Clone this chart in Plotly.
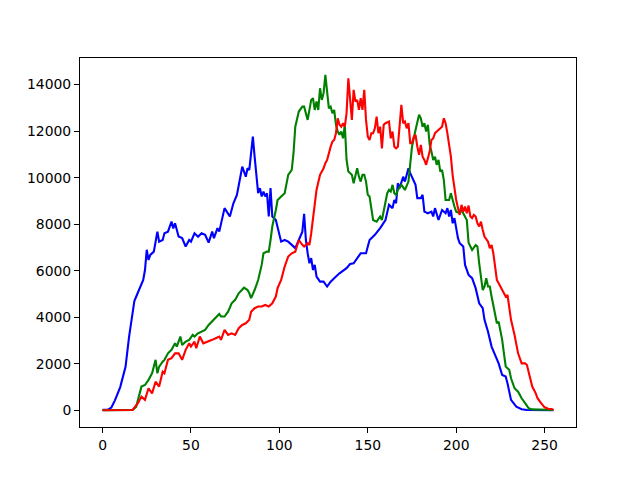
import plotly.graph_objects as go

# Blue channel histogram (bin, count)
blue_bins = [0, 3, 5, 7, 10, 13, 15, 17, 18, 19, 20, 23, 24, 25, 26, 27, 29, 31, 32, 34, 35, 37, 39, 40, 41, 43, 45, 47, 49, 50,
             52, 54, 56, 58, 60, 62, 63, 65, 66, 67, 69, 72, 74, 76, 79, 81, 82, 83, 85, 86, 88, 89, 90, 91, 92, 93, 94, 95, 96, 98,
             99, 101, 103, 105, 107, 109, 111, 113, 114, 115, 116, 117, 118, 119, 120, 121, 123, 125, 127, 129, 131, 134, 138, 140, 142, 146, 149, 151, 154, 157,
             160, 162, 164, 165, 166, 167, 168, 170, 171, 173, 174, 176, 177, 178, 180, 181, 182, 184, 186, 187, 188, 190, 192, 194, 195, 196, 197, 198, 199, 200,
             201, 202, 204, 205, 207, 209, 211, 213, 215, 216, 218, 220, 222, 224, 226, 228, 229, 230, 231, 234, 237, 240, 255]
blue_counts = [20, 30, 120, 430, 1000, 1870, 3160, 4170, 4700, 4880, 5050, 5600, 6030, 6900, 6460, 6680, 6820, 7680, 7250, 7320, 7610, 7680, 8110, 7820, 8040, 7470, 7400, 7040, 7320, 7250,
               7610, 7460, 7610, 7540, 7210, 7680, 7400, 7830, 7680, 8040, 8690, 8330, 8900, 9260, 10470, 10040, 10400, 10330, 11760, 10900, 9330, 9550, 9190, 9400, 9190, 9330, 8330, 9550, 8330, 8180,
               7830, 7250, 7320, 7250, 7110, 6970, 7320, 7680, 8440, 7320, 6750, 6320, 6540, 6030, 6250, 5750, 5530, 5530, 5320, 5530, 5680, 5890, 6110, 6290, 6320, 6750, 6750, 7320, 7540, 7830,
               8180, 8830, 8690, 9040, 8900, 9760, 9550, 10040, 9830, 10400, 10190, 9830, 9690, 9120, 9120, 9260, 8540, 8470, 8540, 8330, 8690, 8180, 8610, 8470, 8690, 8330, 8610, 8040, 8260, 7830,
               7400, 7180, 7040, 6250, 5820, 5680, 5250, 4600, 4390, 3890, 3380, 2740, 2380, 2020, 1520, 1450, 1160, 730, 450, 160, 50, 15, 5]

# Green channel histogram (bin, count)
green_bins = [0, 17, 19, 20, 22, 24, 26, 28, 30, 31, 32, 34, 35, 37, 39, 41, 42, 44, 45, 47, 49, 51, 52, 54, 56, 58, 60, 63, 66, 67,
              69, 71, 73, 75, 77, 80, 82, 83, 84, 86, 88, 90, 91, 93, 94, 95, 96, 98, 99, 101, 103, 105, 107, 108, 109, 111, 113, 114, 115, 116,
              118, 119, 120, 121, 122, 123, 124, 125, 126, 127, 128, 129, 130, 131, 132, 133, 134, 135, 136, 137, 138, 139, 141, 142, 144, 145, 146, 147, 148, 149,
              150, 151, 152, 153, 155, 157, 158, 159, 160, 161, 162, 163, 164, 165, 166, 167, 169, 171, 173, 174, 175, 177, 179, 180, 181, 182, 183, 184, 185, 186,
              187, 188, 189, 190, 191, 192, 193, 194, 196, 197, 198, 199, 200, 202, 203, 205, 206, 207, 208, 209, 211, 212, 213, 214, 215, 216, 217, 218, 219, 220,
              222, 223, 224, 225, 226, 227, 228, 229, 230, 231, 233, 235, 237, 239, 241, 243, 255]
green_counts = [10, 15, 150, 450, 1020, 1090, 1310, 1590, 2170, 1590, 1880, 2090, 2170, 2450, 2600, 2880, 2740, 3170, 2810, 2950, 3030, 3240, 3170, 3310, 3380, 3460, 3670, 3890, 4140, 4030,
                4030, 4240, 4600, 4750, 5030, 5270, 5170, 5030, 4820, 5170, 5600, 6250, 6750, 6820, 6820, 7320, 7900, 8610, 9040, 9190, 9330, 10120, 10330, 11050, 12190, 12840, 13050, 13050, 12770, 12480,
                13340, 13410, 12910, 13270, 12910, 13840, 13340, 13630, 14420, 13630, 12980, 13050, 12770, 12910, 12270, 11980, 11840, 11980, 11690, 12270, 10760, 10260, 10120, 9760, 10400, 10040, 9830, 10120, 10120, 9830,
                9260, 9190, 8610, 8180, 8110, 8330, 8180, 8540, 9040, 9330, 9470, 9400, 9690, 9330, 9260, 9470, 9690, 9470, 9830, 10550, 11330, 12050, 12700, 12550, 12190, 12340, 11980, 12270, 11410, 11120,
                10760, 10900, 10550, 10760, 10260, 10330, 9900, 9040, 9040, 9330, 8970, 8760, 8540, 8470, 8610, 8330, 8180, 7200, 7040, 6890, 7100, 7040, 6320, 5600, 5170, 5320, 5680, 5320, 5320, 4890,
                4170, 3740, 3810, 3460, 3030, 2450, 1880, 1810, 1740, 1380, 950, 800, 520, 310, 90, 40, 15]

# Red channel histogram (bin, count)
red_bins = [0, 17, 20, 22, 24, 26, 28, 30, 32, 34, 35, 37, 39, 41, 43, 45, 47, 49, 50, 52, 53, 55, 57, 60, 62, 64, 66, 67, 69, 71,
            73, 75, 77, 79, 81, 83, 84, 86, 88, 90, 92, 94, 96, 98, 99, 101, 103, 105, 107, 109, 111, 113, 114, 116, 117, 118, 119, 120, 121, 123,
            125, 126, 127, 129, 130, 131, 132, 133, 134, 135, 136, 137, 138, 139, 140, 141, 142, 143, 144, 145, 146, 147, 148, 149, 150, 151, 152, 153, 154, 155,
            156, 157, 158, 159, 160, 162, 163, 164, 165, 166, 167, 168, 169, 170, 171, 172, 173, 174, 175, 176, 177, 178, 179, 180, 181, 182, 183, 185, 186, 187,
            188, 189, 190, 191, 192, 193, 194, 195, 196, 197, 198, 199, 200, 201, 202, 203, 204, 205, 206, 207, 208, 209, 210, 211, 212, 213, 214, 215, 216, 218,
            219, 220, 221, 222, 223, 224, 226, 228, 229, 230, 231, 233, 235, 237, 239, 240, 241, 243, 245, 246, 248, 250, 252, 254, 255]
red_counts = [5, 15, 310, 590, 450, 950, 730, 1230, 1020, 1660, 1590, 2170, 2240, 2450, 2450, 2170, 2600, 2880, 2740, 2950, 2670, 3170, 2880, 2950, 3030, 3100, 3170, 3030, 3460, 3240,
              3310, 3240, 3530, 3670, 3740, 3890, 4240, 4390, 4460, 4460, 4530, 4460, 4600, 4890, 5250, 5600, 6180, 6610, 6750, 6820, 7320, 7110, 7040, 7180, 7110, 7610, 8180, 8900, 9470, 10120,
              10400, 10620, 10760, 11330, 11550, 11620, 11910, 12550, 12270, 12190, 12340, 12190, 12770, 14270, 13200, 12480, 13770, 13270, 13340, 12910, 13410, 12910, 13770, 12480, 11760, 11620, 11910, 11910, 12120, 12620,
              11910, 12190, 11260, 12270, 12340, 12410, 11690, 11980, 11330, 11260, 11330, 12120, 13130, 12340, 12410, 12120, 12340, 11480, 11480, 11760, 11840, 11330, 10980, 11410, 10900, 10760, 10550, 11120, 11620, 11690,
              11910, 11980, 12050, 12120, 12190, 12550, 12340, 11910, 11410, 10900, 10100, 9470, 9040, 8690, 8400, 8830, 8540, 8760, 8470, 8800, 8330, 8260, 8400, 8330, 8040, 7900, 8110, 7750, 7470, 7250,
              6970, 7110, 6750, 6180, 5600, 5460, 5170, 4890, 4960, 4390, 3890, 3240, 2450, 2020, 2020, 1950, 1660, 1020, 730, 520, 310, 130, 70, 60, 20]

x_ticks = [0, 50, 100, 150, 200, 250]
y_ticks = [0, 2000, 4000, 6000, 8000, 10000, 12000, 14000]

series = [("b", blue_bins, blue_counts, "#0000ff"),
          ("g", green_bins, green_counts, "#008000"),
          ("r", red_bins, red_counts, "#ff0000")]

fig = go.Figure()
for name, xs, ys, col in series:
    fig.add_trace(go.Scatter(x=xs, y=ys, mode="lines", name=name,
                             line=dict(color=col, width=2.1), showlegend=False))

all_x = blue_bins + green_bins + red_bins
all_y = blue_counts + green_counts + red_counts
xpad = 0.05 * (max(all_x) - min(all_x))
ypad = 0.05 * (max(all_y) - min(all_y))

axis_common = dict(showline=True, linecolor="black", linewidth=1, mirror=True,
                   ticks="outside", ticklen=5, tickwidth=1, tickcolor="black",
                   showgrid=False, zeroline=False, tickformat="d",
                   tickfont=dict(family="DejaVu Sans", size=13.9, color="black"))

# the page body has an 8px margin, so the figure is drawn 8px smaller
fig.update_layout(
    width=632, height=472,
    margin=dict(l=72, r=64, t=50, b=53),
    paper_bgcolor="white", plot_bgcolor="white",
    xaxis=dict(range=[min(all_x) - xpad, max(all_x) + xpad], tickvals=x_ticks, **axis_common),
    yaxis=dict(range=[min(all_y) - ypad, max(all_y) + ypad], tickvals=y_ticks, **axis_common),
)

fig.write_html("out.html")
